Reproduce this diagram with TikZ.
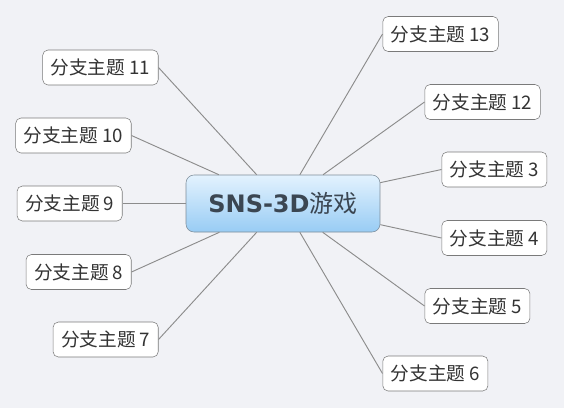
\documentclass[tikz,border=0pt]{standalone}
\usepackage{fontspec}
\setmainfont{Noto Sans CJK SC}
\newfontfamily\titlefont{DejaVu Sans}
\usepackage{xcolor}

\definecolor{bgcol}{HTML}{F1F2F6}
\definecolor{linecol}{HTML}{8C8C8C}
\definecolor{boxline}{HTML}{7A7A7A}
\definecolor{titletext}{HTML}{3B4652}
\definecolor{centertop}{HTML}{E3F2FE}
\definecolor{centerbot}{HTML}{98CCF4}
\definecolor{centerline}{HTML}{7D8C99}

\begin{document}
\begin{tikzpicture}[x=0.75pt,y=-0.75pt,
	topic/.style={draw=boxline, fill=white, rounded corners=4pt, minimum height=26.25pt,
		inner xsep=6pt, inner ysep=0pt, text=black!80, font=\fontsize{14}{16}\selectfont},
	central/.style={draw=centerline, top color=centertop, bottom color=centerbot,
		rounded corners=6pt, minimum width=145.5pt, minimum height=42.75pt,
		text=titletext, font=\fontsize{18}{20}\selectfont},
	link/.style={draw=linecol, line width=0.7pt}]
	\fill[bgcol] (0,0) rectangle (564,408);
	
	\node[central] (C) at (283,203.5) {{\titlefont\bfseries SNS-3D}游戏};
	
	\node[topic, anchor=west] (T13) at (382.5,34) {分支主题 13};
	\node[topic, anchor=west] (T12) at (424.5,102) {分支主题 12};
	\node[topic, anchor=west] (T3) at (441.5,169.5) {分支主题 3};
	\node[topic, anchor=west] (T4) at (441.5,238) {分支主题 4};
	\node[topic, anchor=west] (T5) at (424.5,306) {分支主题 5};
	\node[topic, anchor=west] (T6) at (382.5,373.5) {分支主题 6};
	\node[topic, anchor=east] (T11) at (158.5,67.5) {分支主题 11};
	\node[topic, anchor=east] (T10) at (131.5,135.5) {分支主题 10};
	\node[topic, anchor=east] (T9) at (122.5,203.5) {分支主题 9};
	\node[topic, anchor=east] (T8) at (131.5,272) {分支主题 8};
	\node[topic, anchor=east] (T7) at (158.5,339.5) {分支主题 7};
	
	\draw[link] (C) -- (T13.west);
	\draw[link] (C) -- (T12.west);
	\draw[link] (C) -- (T3.west);
	\draw[link] (C) -- (T4.west);
	\draw[link] (C) -- (T5.west);
	\draw[link] (C) -- (T6.west);
	\draw[link] (C) -- (T11.east);
	\draw[link] (C) -- (T10.east);
	\draw[link] (C) -- (T9.east);
	\draw[link] (C) -- (T8.east);
	\draw[link] (C) -- (T7.east);
\end{tikzpicture}
\end{document}
